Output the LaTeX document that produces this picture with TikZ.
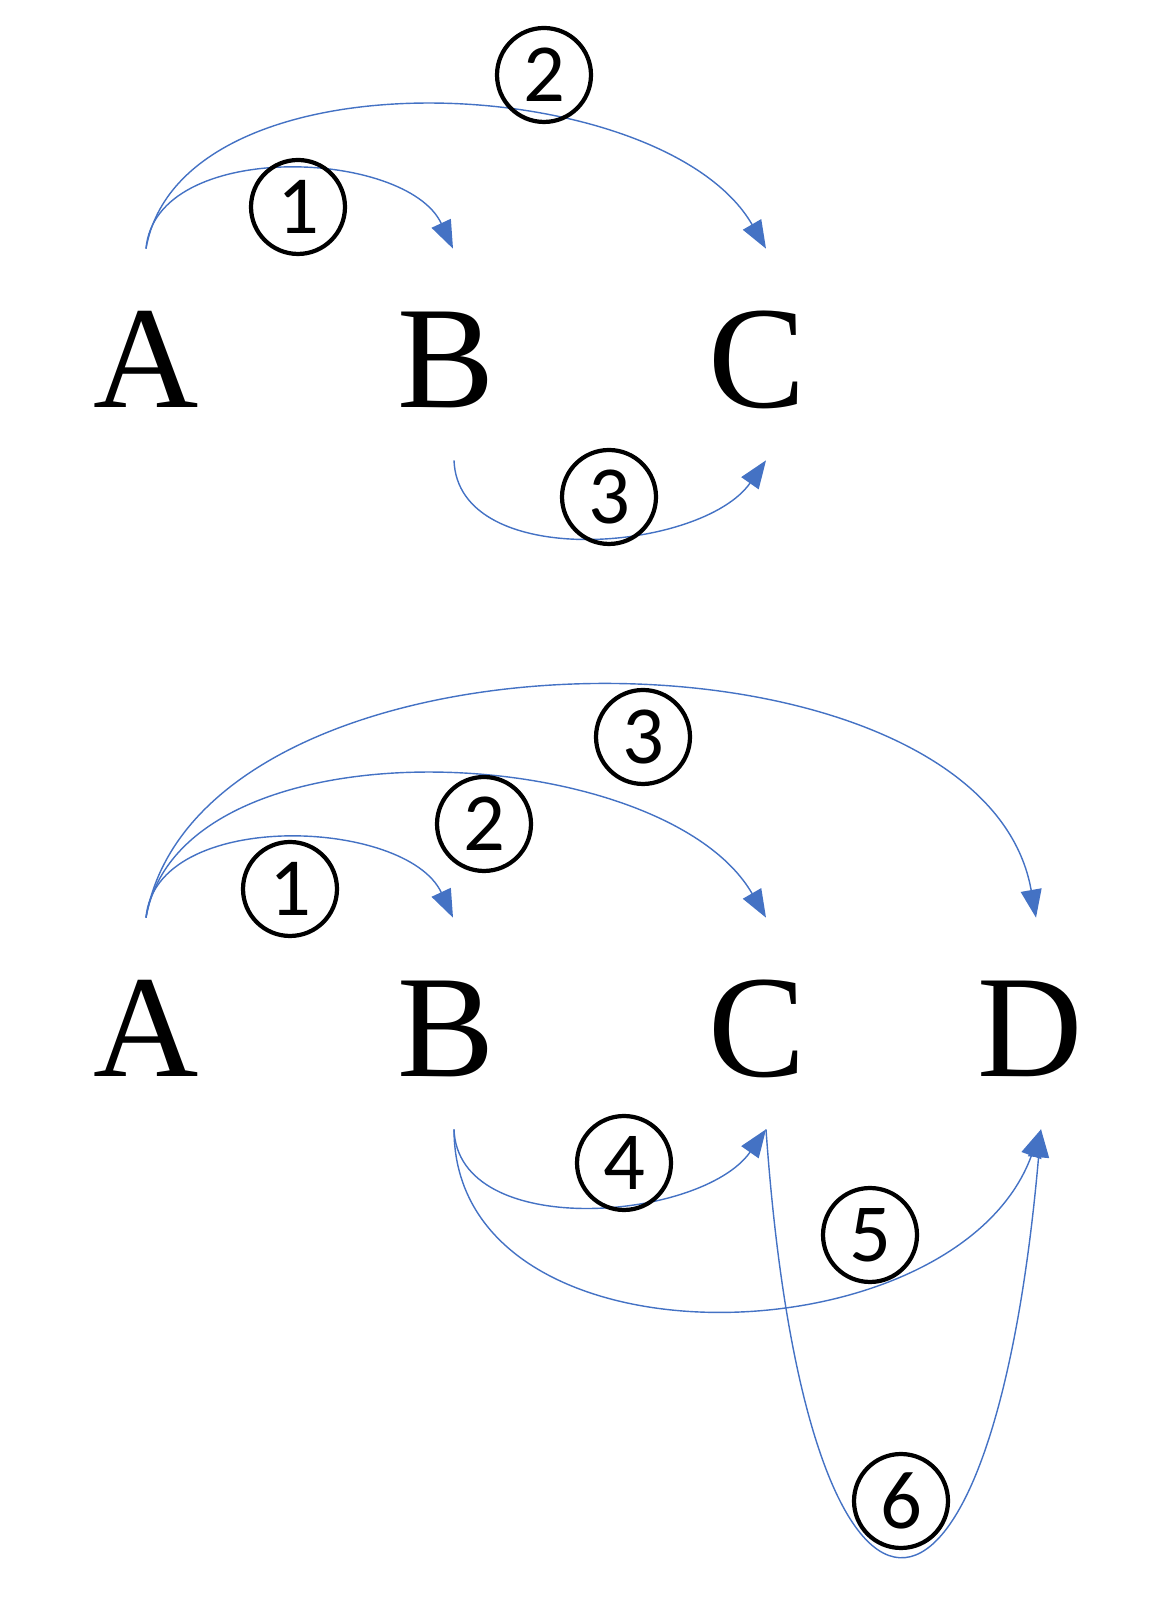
\documentclass[tikz,border=0pt]{standalone}
\usepackage{fontspec}
\usepackage{tikz}
\usetikzlibrary{arrows.meta}
\setmainfont{Liberation Serif}
\newfontfamily\numfont{Carlito}
\definecolor{linkc}{HTML}{4472C4}
\tikzset{
  letternode/.style={inner xsep=0pt, inner ysep=0pt, anchor=base,
    text height=3.18cm, text depth=1.04cm,
    font=\fontsize{83}{90}\selectfont},
  stepnum/.style={circle, draw=black, line width=2.4pt, minimum size=1.88cm,
    inner sep=0pt, font=\numfont\fontsize{47}{50}\selectfont},
  linkedge/.style={-{Triangle[length=0.56cm, width=0.42cm]}, draw=linkc,
    line width=0.8pt},
}

\begin{document}
\begin{tikzpicture}[x=0.02cm, y=0.02cm]
  \useasboundingbox (0,0) rectangle (1173,1601);

  % first row: A B C
  \node[letternode] (a1) at (146,1193) {A};
  \node[letternode] (b1) at (446,1193) {B};
  \node[letternode] (c1) at (757,1193) {C};
  \draw[linkedge] (a1.north) to[out=85, in=115, looseness=0.92] ([xshift=1.4mm]b1.north);
  \draw[linkedge] (a1.north) to[out=80, in=120, looseness=0.85] ([xshift=1.8mm]c1.north);
  \draw[linkedge] ([xshift=1.6mm]b1.south) to[out=-88, in=-125, looseness=0.92] ([xshift=1.8mm]c1.south);
  \node[stepnum] (s11) at (298,1394) {1};
  \node[stepnum] (s12) at (544,1526) {2};
  \node[stepnum] (s13) at (609,1104) {3};

  % second row: A B C D
  \node[letternode] (a2) at (146,524) {A};
  \node[letternode] (b2) at (446,524) {B};
  \node[letternode] (c2) at (757,524) {C};
  \node[letternode] (d2) at (1030,524) {D};
  \draw[linkedge] (a2.north) to[out=85, in=115, looseness=0.92] ([xshift=1.4mm]b2.north);
  \draw[linkedge] (a2.north) to[out=80, in=120, looseness=0.85] ([xshift=1.8mm]c2.north);
  \draw[linkedge] (a2.north) to[out=80, in=100, looseness=0.9] ([xshift=1.2mm]d2.north);
  \draw[linkedge] ([xshift=1.6mm]b2.south) to[out=-88, in=-125, looseness=0.92] ([xshift=1.8mm]c2.south);
  \draw[linkedge] ([xshift=1.6mm]b2.south) to[out=-90, in=-110, looseness=1.08] ([xshift=2.2mm]d2.south);
  \draw[linkedge] ([xshift=1.8mm]c2.south) to[out=-86, in=-95, looseness=5.3] ([xshift=2.2mm]d2.south);
  \node[stepnum] (s21) at (290,712) {1};
  \node[stepnum] (s22) at (484,777) {2};
  \node[stepnum] (s23) at (643,864) {3};
  \node[stepnum] (s24) at (624,438) {4};
  \node[stepnum] (s25) at (870,366) {5};
  \node[stepnum] (s26) at (901,100) {6};
\end{tikzpicture}
\end{document}
